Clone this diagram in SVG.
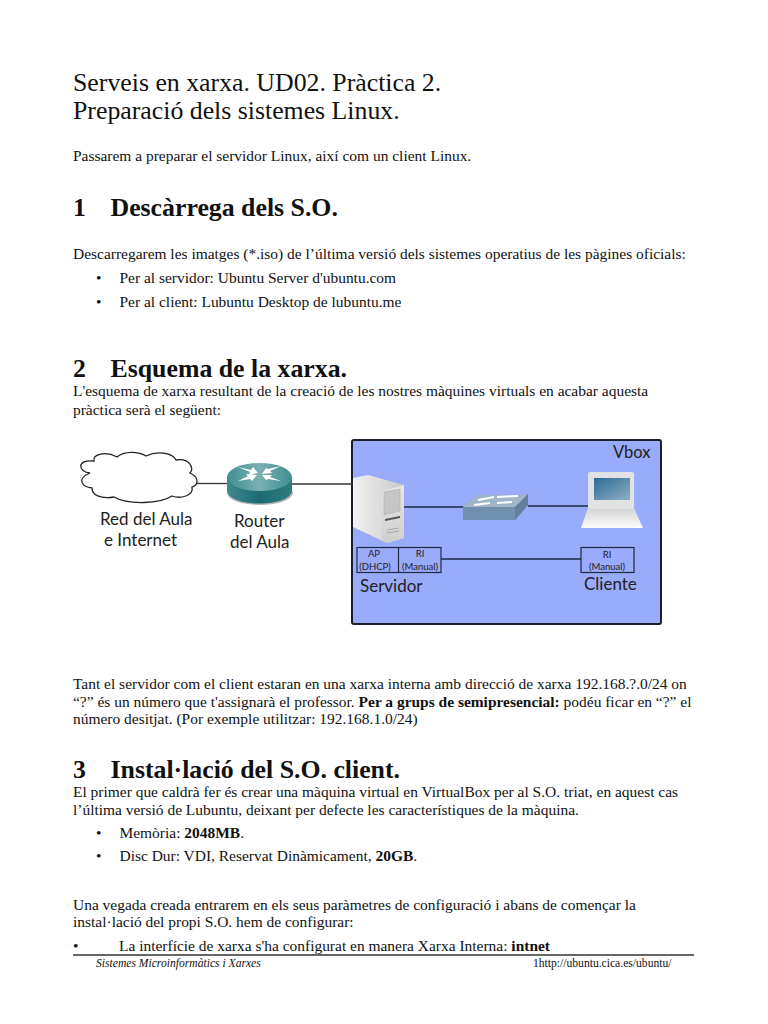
<svg xmlns="http://www.w3.org/2000/svg" width="768" height="1024" viewBox="0 0 768 1024">
<style>
text{font-family:"Liberation Serif","Times New Roman",serif;fill:#111}
.b{font-size:15.46px}
.t{font-size:25.8px}
.h{font-size:25.8px;font-weight:bold}
.f{font-size:11.6px}
.d{font-family:Lato,"Open Sans","Liberation Sans",sans-serif;fill:#222}
.l{font-size:17px}
.s{font-size:9.500px;text-anchor:middle}
.w{stroke:#333;stroke-width:1.3;fill:none}
.k{stroke:#1c2a44;stroke-width:1.6;fill:none}
</style>
<defs>
<linearGradient id="sv" x1="0" x2="1" y1="0" y2="0"><stop offset="0" stop-color="#f2f2f2"/><stop offset="1" stop-color="#c8c8c8"/></linearGradient>
<linearGradient id="fr" x1="0" x2="0" y1="0" y2="1"><stop offset="0" stop-color="#e6e6e6"/><stop offset="1" stop-color="#cfcfcf"/></linearGradient>
<linearGradient id="lap" x1="0" x2="0" y1="0" y2="1"><stop offset="0" stop-color="#d4d4d4"/><stop offset="1" stop-color="#fbfbfb"/></linearGradient>
<linearGradient id="scr" x1="0" x2="1" y1="0" y2="1"><stop offset="0" stop-color="#2c6a96"/><stop offset="1" stop-color="#8fb0c4"/></linearGradient>
<linearGradient id="rt" x1="0" x2="1" y1="0" y2="0"><stop offset="0" stop-color="#3d8a8c"/><stop offset=".5" stop-color="#1f6a70"/><stop offset="1" stop-color="#2e7c80"/></linearGradient>
<linearGradient id="rtop" x1="0" x2="1" y1="0" y2="0"><stop offset="0" stop-color="#3f8f90"/><stop offset=".5" stop-color="#7ab0b2"/><stop offset="1" stop-color="#3f8f90"/></linearGradient>
<filter id="soft" x="-5%" y="-5%" width="110%" height="110%"><feGaussianBlur stdDeviation="0.4"/></filter>
</defs>
<rect width="768" height="1024" fill="#fff"/>
<g id="text">
<text class="t" x="73" y="91">Serveis en xarxa. UD02. Pràctica 2.</text>
<text class="t" x="73" y="119">Preparació dels sistemes Linux.</text>
<text class="b" x="73" y="161">Passarem a preparar el servidor Linux, així com un client Linux.</text>
<text class="h" x="73" y="216">1</text><text class="h" x="110.500" y="216">Descàrrega dels S.O.</text>
<text class="b" x="73" y="259">Descarregarem les imatges (*.iso) de l’última versió dels sistemes operatius de les pàgines oficials:</text>
<text class="b" x="96" y="283">•</text><text class="b" x="119.500" y="283">Per al servidor: Ubuntu Server d'ubuntu.com</text>
<text class="b" x="96" y="307">•</text><text class="b" x="119.500" y="307">Per al client: Lubuntu Desktop de lubuntu.me</text>
<text class="h" x="73" y="377">2</text><text class="h" x="110.500" y="377">Esquema de la xarxa.</text>
<text class="b" x="73" y="396">L'esquema de xarxa resultant de la creació de les nostres màquines virtuals en acabar aquesta</text>
<text class="b" x="73" y="415">pràctica serà el següent:</text>
<text class="b" x="73" y="689">Tant el servidor com el client estaran en una xarxa interna amb direcció de xarxa 192.168.?.0/24 on</text>
<text class="b" x="73" y="707">“?” és un número que t'assignarà el professor. <tspan font-weight="bold">Per a grups de semipresencial:</tspan> podéu ficar en “?” el</text>
<text class="b" x="73" y="724">número desitjat. (Por exemple utilitzar: 192.168.1.0/24)</text>
<text class="h" x="73" y="778">3</text><text class="h" x="110.500" y="778">Instal·lació del S.O. client.</text>
<text class="b" x="73" y="797">El primer que caldrà fer és crear una màquina virtual en VirtualBox per al S.O. triat, en aquest cas</text>
<text class="b" x="73" y="815">l’última versió de Lubuntu, deixant per defecte les característiques de la màquina.</text>
<text class="b" x="96" y="838">•</text><text class="b" x="119.500" y="838">Memòria: <tspan font-weight="bold">2048MB</tspan>.</text>
<text class="b" x="96" y="861">•</text><text class="b" x="119.500" y="861">Disc Dur: VDI, Reservat Dinàmicament, <tspan font-weight="bold">20GB</tspan>.</text>
<text class="b" x="73" y="910">Una vegada creada entrarem en els seus paràmetres de configuració i abans de començar la</text>
<text class="b" x="73" y="927">instal·lació del propi S.O. hem de configurar:</text>
<text class="b" x="73" y="951">•</text><text class="b" x="119" y="951">La interfície de xarxa s'ha configurat en manera Xarxa Interna: <tspan font-weight="bold">intnet</tspan></text>
</g>
<g id="footer">
<line x1="73" y1="955" x2="694" y2="955" stroke="#333" stroke-width="1.3"/>
<text class="f" x="96" y="967" font-style="italic">Sistemes Microinformàtics i Xarxes</text>
<text class="f" x="533" y="967">1http://ubuntu.cica.es/ubuntu/</text>
</g>
<g id="vbox"><rect x="352" y="440" width="309" height="184" rx="2" fill="#99abfb" stroke="#1a1f2c" stroke-width="2"/>
<text class="d" x="613" y="458" font-size="16.500">Vbox</text></g>
<g id="connectors">
<line class="w" x1="196" y1="483.500" x2="228" y2="483.500"/>
<line class="w" x1="292" y1="484" x2="353" y2="484"/>
<line class="k" x1="404" y1="507" x2="464" y2="507"/>
<line class="k" x1="528" y1="506" x2="590" y2="506"/>
<line class="k" x1="441" y1="559" x2="581" y2="559"/>
</g>
<g id="cloud"><path d="M90 473C78 472 76 459 94 461C92 454 106 451 117 457C124 451 138 451 146 456C156 451 172 452 176 460C190 458 194 468 190 473C199 477 199 485 192 487C194 496 180 499 172 496C160 504 128 505 114 497C100 499 92 495 92 488C82 487 76 479 90 473Z" fill="#fff" stroke="#222" stroke-width="1.300"/>
<text class="d l" x="100" y="524.500">Red del Aula</text><text class="d l" x="104" y="546">e Internet</text></g>
<g id="router">
<g filter="url(#soft)">
<ellipse cx="260" cy="493" rx="33" ry="12" fill="#b5b5b5"/>
<path d="M227 477V490C227 508 292 508 292 490V477Z" fill="url(#rt)"/>
<ellipse cx="259.500" cy="477" rx="32.500" ry="14" fill="url(#rtop)"/>
<path d="M238 467L251 470L253 467L258 473L249 475L250 472ZM281 466L270 471L272 473L262 474L266 468L268 469ZM238 481L248 476L246 474L257 475L252 481L250 479ZM281 481L270 477L272 475L262 475L266 480L268 479Z" fill="#fff"/>
</g>
<text class="d l" x="234" y="527">Router</text><text class="d l" x="230" y="548">del Aula</text></g>
<g id="servidor">
<g filter="url(#soft)">
<path d="M353 478L368 475L404 485V538L387 543L353 527Z" fill="url(#sv)"/>
<path d="M382 491L404 485V538L387 543L382 540Z" fill="url(#fr)"/>
<path d="M384 492L400 489V511L384 515Z" fill="#c6c6c6" stroke="#aaa" stroke-width=".5"/>
<path d="M385 519L400 516V518L385 521Z" fill="#555"/>
<path d="M387 530L399 528M387 533L399 531" stroke="#aaa" fill="none"/>
</g>
<g fill="none" stroke="#1c2a44" stroke-width="1.200"><rect x="357" y="547.500" width="84" height="25"/><line x1="398.500" y1="547.500" x2="398.500" y2="572.500"/></g>
<text class="d s" x="374" y="557">AP</text><text class="d s" x="375" y="569.500">(DHCP)</text>
<text class="d s" x="420" y="557">RI</text><text class="d s" x="420" y="569.500">(Manual)</text>
<text class="d l" x="360" y="592">Servidor</text></g>
<g id="switch">
<g filter="url(#soft)">
<path d="M463 507L477 495H528V505L515 520H463Z" fill="#6f90ad"/>
<path d="M463 507L477 495H528L515 507Z" fill="#9fb5c9"/>
<path d="M515 507L528 494V505L515 520Z" fill="#5f7f9c"/>
<path d="M478 500L494 497M497 497L518 496M474 505L490 503M497 503L512 502" stroke="#fff" stroke-width="2" fill="none"/>
</g></g>
<g id="cliente">
<g filter="url(#soft)">
<path d="M581 528L588 508H634L643 528Z" fill="url(#lap)"/>
<rect x="588" y="472" width="46" height="37" rx="2" fill="#e2e2e2"/>
<rect x="594" y="478" width="36" height="22" fill="url(#scr)"/>
</g>
<rect x="581" y="547.500" width="53" height="25" fill="none" stroke="#1c2a44" stroke-width="1.200"/>
<text class="d s" x="607" y="558">RI</text><text class="d s" x="607" y="570">(Manual)</text>
<text class="d l" x="584" y="590">Cliente</text></g>
</svg>
